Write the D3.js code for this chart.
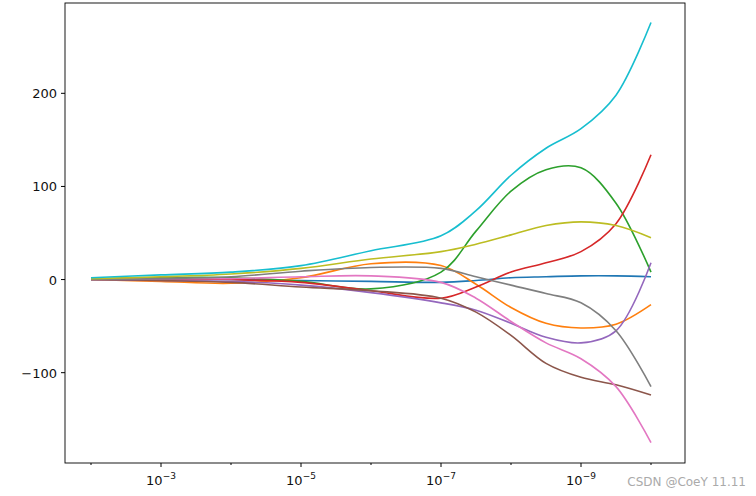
<!DOCTYPE html><html><head><script src="https://cdn.jsdelivr.net/npm/d3@7"></script>
<style>body{margin:0;background:#fff}text{font-family:"DejaVu Sans";font-size:13px;fill:#111}</style></head><body>
<svg id="c" width="756" height="496"></svg>
<script>
const exps=[-2,-3,-4,-5,-6,-7,-7.5,-8,-8.5,-9,-9.5,-10];
const colors=["#1f77b4","#ff7f0e","#2ca02c","#d62728","#9467bd","#8c564b","#e377c2","#7f7f7f","#bcbd22","#17becf"];
const blue=[0,0,0,-1,-2,-3,-1,2,3,4,4,3];
const orange=[0,-2,-4,2,17,15,-5,-30,-47,-52,-48,-27];
const green=[0,2,2,-2,-10,8,52,95,118,120,82,8];
const red=[0,1,0,-3,-12,-20,-8,8,18,30,60,134];
const purple=[0,-1,-2,-6,-14,-25,-33,-47,-62,-68,-55,18];
const brown=[0,-1,-3,-8,-12,-20,-35,-60,-90,-105,-113,-124];
const pink=[0,1,1,3,4,-3,-20,-45,-68,-85,-115,-175];
const gray=[0,1,3,9,13,12,3,-6,-15,-25,-55,-115];
const olive=[1,3,6,12,22,30,38,48,58,62,58,45];
const cyan=[2,5,8,15,31,47,74,112,141,162,198,276];
const series=[blue,orange,green,red,purple,brown,pink,gray,olive,cyan];
const yTicks=[-100,0,100,200];
const xMajor=[-3,-5,-7,-9];
const xMinor=[-2,-4,-6,-8,-10];
const svg=d3.select("#c");
const L=65,R=685,T=3,B=463;
const x=d3.scaleLinear().domain([-2,-10]).range([91,651]);
const y=d3.scaleLinear().domain([-197,297]).range([B,T]);
const line=d3.line().x((d,i)=>x(exps[i])).y(d=>y(d)).curve(d3.curveCatmullRom.alpha(0.5));
series.forEach((s,i)=>svg.append("path").attr("d",line(s)).attr("fill","none").attr("stroke",colors[i]).attr("stroke-width",1.6));
svg.append("rect").attr("x",L).attr("y",T).attr("width",R-L).attr("height",B-T).attr("fill","none").attr("stroke","#000").attr("stroke-width",0.9);
yTicks.forEach(v=>{svg.append("line").attr("x1",L-4).attr("x2",L).attr("y1",y(v)).attr("y2",y(v)).attr("stroke","#000");
 svg.append("text").attr("x",L-8).attr("y",y(v)+5).attr("text-anchor","end").text(v<0?"\u2212"+(-v):v);});
xMajor.forEach(e=>{svg.append("line").attr("x1",x(e)).attr("x2",x(e)).attr("y1",B).attr("y2",B+4).attr("stroke","#000");
 const t=svg.append("text").attr("x",x(e)).attr("y",B+22).attr("text-anchor","middle");
 t.append("tspan").text("10");t.append("tspan").attr("dy",-6).style("font-size","9px").text("\u2212"+(-e));});
xMinor.forEach(e=>svg.append("line").attr("x1",x(e)).attr("x2",x(e)).attr("y1",B).attr("y2",B+2).attr("stroke","#000"));
svg.append("text").attr("x",746).attr("y",486).attr("text-anchor","end").style("fill","#aaa").style("font-size","12px").text("CSDN @CoeY 11.11");
</script></body></html>
